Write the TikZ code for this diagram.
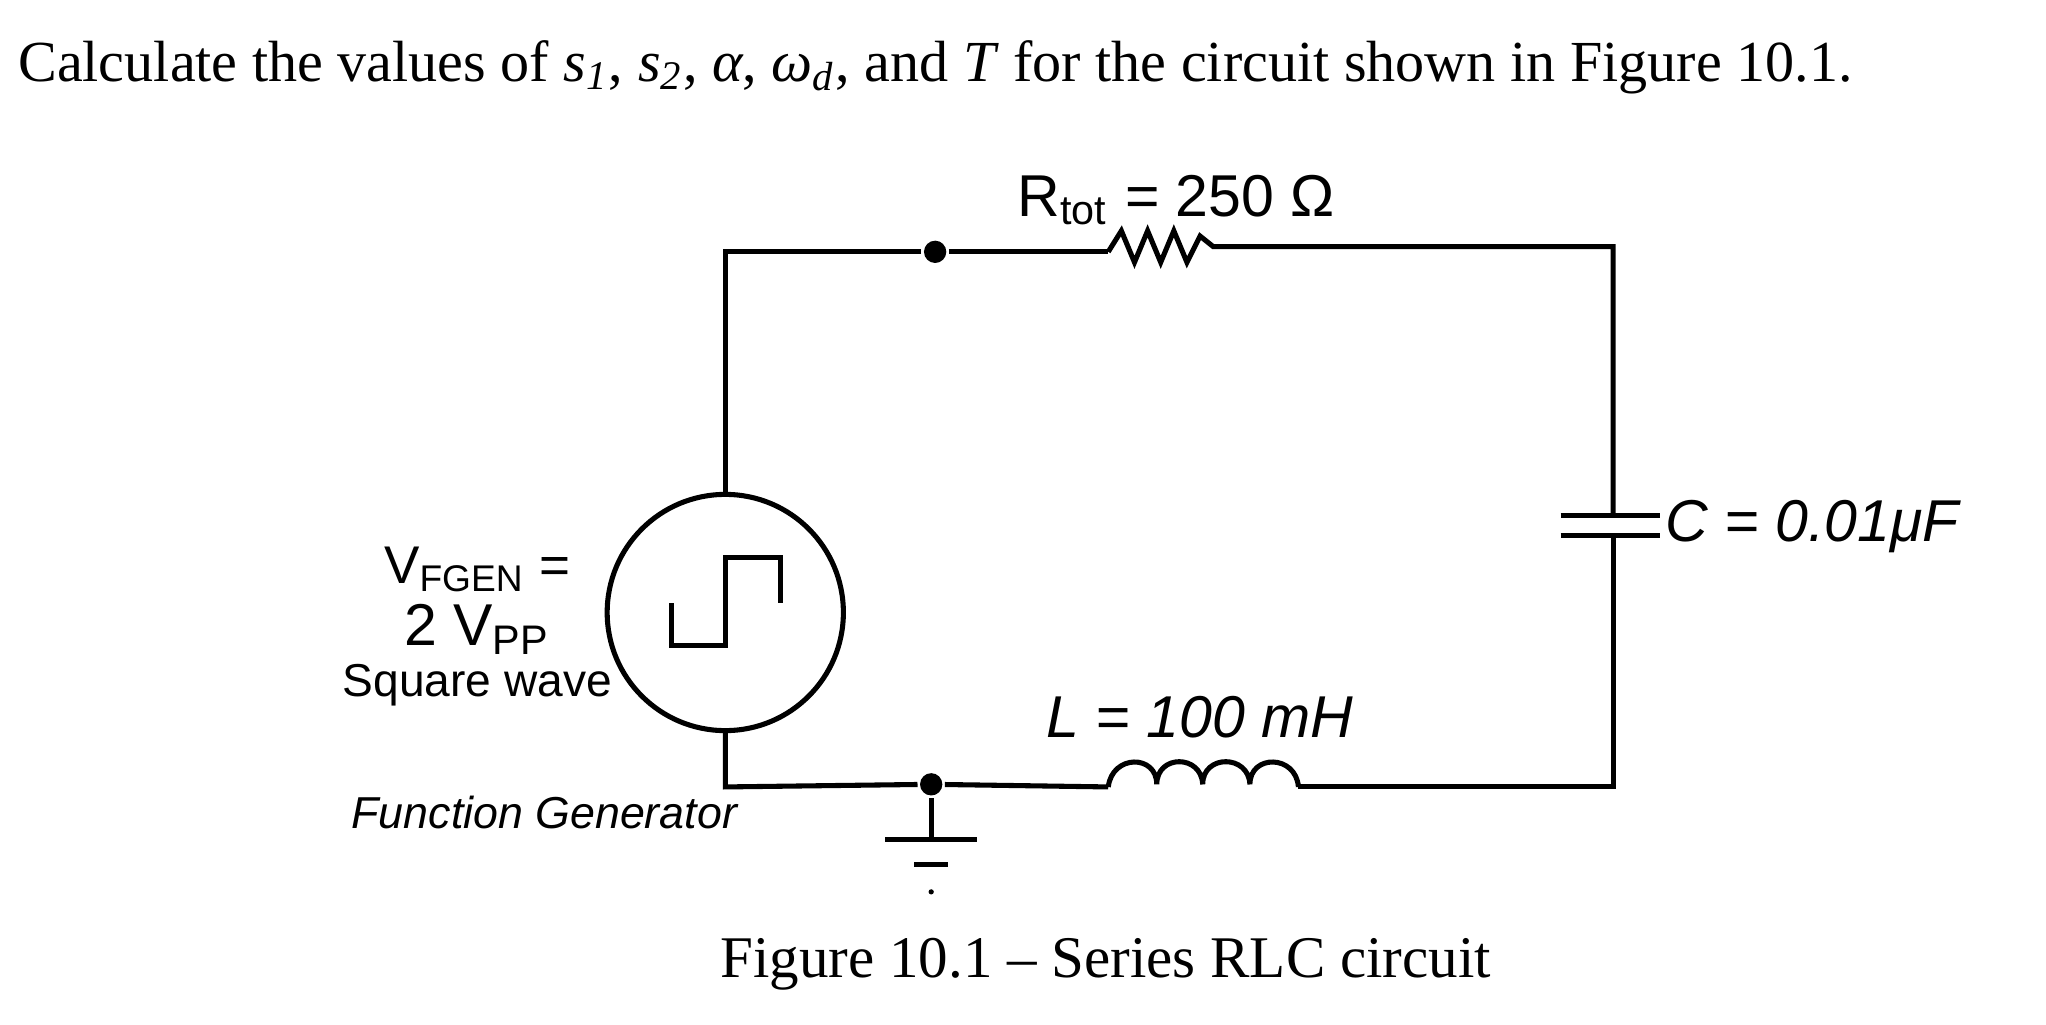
\documentclass[tikz,border=0pt]{standalone}
\usepackage{fontspec}
\setmainfont{Liberation Serif}
\newfontfamily\sans{Liberation Sans}
\begin{document}
\begin{tikzpicture}[x=0.01cm,y=-0.01cm,line width=1.1pt,
  lab/.style={font=\sans\fontsize{12.8}{15}\selectfont,inner sep=0},
  slab/.style={font=\sans\fontsize{10}{13}\selectfont,inner sep=0},
  dot/.style={circle,fill=black,inner sep=0,minimum size=0.17cm}]
\useasboundingbox (0,0) rectangle (1560,781);
\node[anchor=base west,inner sep=0,font=\fontsize{12.6}{16}\selectfont] (title) at (12,62)
 {Calculate the values of \textit{s\textsubscript{1}}, \textit{s\textsubscript{2}}, \textit{α}, \textit{ω\textsubscript{d}}, and \textit{T} for the circuit shown in Figure 10.1.};
% nodes
\coordinate (tl) at (553,192);
\node[dot] (d1) at (713,192) {};
\coordinate (r1) at (845,192);
\coordinate (r2) at (925,188);
\coordinate (tr) at (1230,188);
\coordinate (ct) at (1230,393);
\coordinate (cb) at (1230,408);
\coordinate (br) at (1230,600);
\coordinate (l2) at (990,600);
\coordinate (l1) at (845,600);
\node[dot] (d2) at (710,598) {};
\coordinate (bl) at (553,600);
\node[circle,draw,minimum size=1.8cm,inner sep=0] (src) at (553,467) {};
\coordinate (g1) at (710,640);
% wires
\draw (src.north) -- (tl) -- (d1) -- (r1);
\draw (r1) -- (855,176) -- (865,200) -- (875,176) -- (885,200) -- (895,176) -- (905,200) -- (915,180) -- (r2) -- (tr) -- (ct);
\draw (1190,393) -- (1266,393);
\draw (1190,408) -- (1266,408);
\draw (cb) -- (br) -- (l2);
\draw (l1) .. controls (848,575) and (882,575) .. (882,598)
      .. controls (882,575) and (916,575) .. (917,598)
      .. controls (917,575) and (952,575) .. (953,598)
      .. controls (953,575) and (988,575) .. (l2);
\draw (l1) -- (d2) -- (bl) -- (src.south);
\draw (d2) -- (g1);
\draw (675,640) -- (745,640);
\draw (697,659) -- (723,659);
\fill (710,680) circle (0.02cm);
% square wave
\draw[line width=1pt] (512,460) -- (512,492) -- (553,492) -- (553,425) -- (595,425) -- (595,460);
% labels
\node[lab,anchor=base] (rl) at (897,165) {R\textsubscript{tot} = 250 Ω};
\node[lab,anchor=base west] (cl) at (1268,413) {\itshape C = 0.01μF};
\node[lab,anchor=base] (ll) at (915,562) {\itshape L = 100 mH};
\node[lab,anchor=base,font=\sans\fontsize{11.5}{13}\selectfont] (v1) at (364,445) {V\textsubscript{FGEN} =};
\node[lab,anchor=base] (v2) at (364,492) {2 V\textsubscript{PP}};
\node[slab,anchor=base] (v3) at (364,531) {Square wave};
\node[slab,anchor=base,font=\sans\itshape\fontsize{9.7}{13}\selectfont] (fg) at (415,632) {Function Generator};
\node[anchor=base,inner sep=0,font=\fontsize{12.8}{16}\selectfont] (cap) at (843,745) {Figure 10.1 – Series RLC circuit};
\end{tikzpicture}
\end{document}
